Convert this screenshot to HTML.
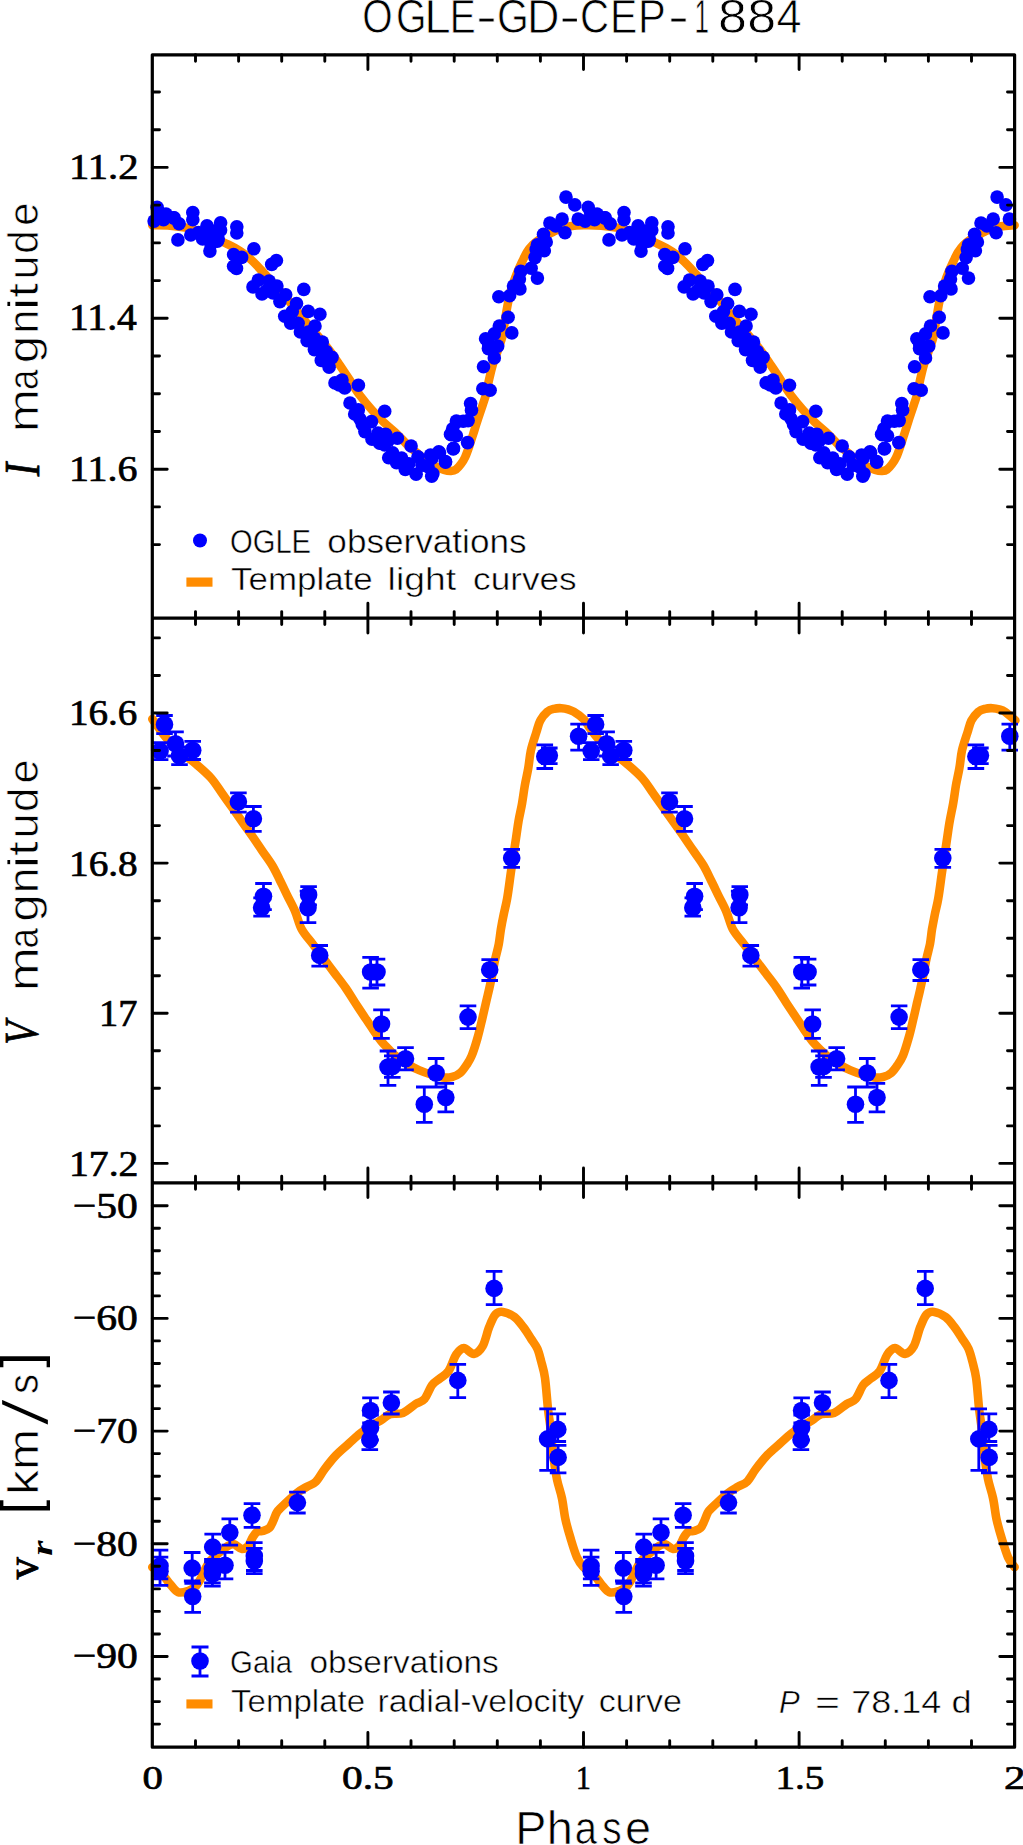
<!DOCTYPE html><html><head><meta charset="utf-8"><title>OGLE-GD-CEP-1884</title>
<style>html,body{margin:0;padding:0;background:#fff;}svg{display:block;}.s{font-family:"Liberation Sans",sans-serif;}.r{font-family:"Liberation Serif",serif;}</style></head><body>
<svg width="1023" height="1845" viewBox="0 0 1023 1845">
<rect width="1023" height="1845" fill="#fff"/>
<path d="M152.3 225.2C155.3 225.3 164.6 225.2 170 225.6C175.4 226 180.8 226.8 185 227.5C189.2 228.2 191.7 228.9 195 230C198.3 231.1 201.7 232.6 205 234C208.3 235.4 211.7 237 215 238.5C218.3 240 221.7 241.4 225 243C228.3 244.6 231.7 246.1 235 248C238.3 249.9 241.9 252.2 245 254.5C248.1 256.8 250.7 259.2 253.5 262C256.3 264.8 258.4 267.1 262 271C265.6 274.9 270.5 280.5 275 285.5C279.5 290.5 284 295.1 289 301C294 306.9 300.2 315.2 305 321C309.8 326.8 313.8 331 318 336C322.2 341 326.3 346.1 330 351C333.7 355.9 336.7 360.6 340 365.5C343.3 370.4 346.7 375.5 350 380.5C353.3 385.5 356.3 390.6 360 395.5C363.7 400.4 368 405.5 372 410C376 414.5 379.8 418.5 384 422.5C388.2 426.5 393 430.2 397 434C401 437.8 404.8 442.5 408 445.5C411.2 448.5 413.2 449.7 416 452C418.8 454.3 421.8 457.2 425 459.5C428.2 461.8 431.8 464.2 435 466C438.2 467.8 441.3 469.2 444 470C446.7 470.8 449 471.1 451 471C453 470.9 454.3 470.7 456 469.5C457.7 468.3 459.5 466 461 464C462.5 462 463.7 460.3 465 457.5C466.3 454.7 467.7 450.8 469 447C470.3 443.2 471.5 439.4 473 434.7C474.5 430 476.3 424.1 478 419C479.7 413.9 481.7 408.1 483 404C484.3 399.9 485 398.5 486 394.5C487 390.5 487.8 385.1 489 380C490.2 374.9 491.5 369 493 364C494.5 359 496.4 354.7 498 350C499.6 345.3 501.3 341 502.5 336C503.7 331 504.1 325.5 505 320C505.9 314.5 507 308 508 303C509 298 510.1 293.5 511 290C511.9 286.5 512.5 285 513.6 282C514.7 279 516.1 275.3 517.5 272C518.9 268.7 520.4 265.3 522 262C523.6 258.7 525.2 254.9 527 252C528.8 249.1 530.8 246.7 533 244.5C535.2 242.3 537.7 240.6 540 239C542.3 237.4 544.8 236.2 547 235C549.2 233.8 550.8 233 553 232C555.2 231 557.2 229.9 560 229C562.8 228.1 566.1 226.9 570 226.3C573.9 225.7 578.3 225.3 583.5 225.2C588.7 225.1 595.7 225.2 601.1 225.6C606.6 226 612 226.8 616.1 227.5C620.3 228.2 622.8 228.9 626.1 230C629.5 231.1 632.8 232.6 636.1 234C639.5 235.4 642.8 237 646.1 238.5C649.5 240 652.8 241.4 656.1 243C659.5 244.6 662.8 246.1 666.1 248C669.5 249.9 673.1 252.2 676.1 254.5C679.2 256.8 681.8 259.2 684.6 262C687.5 264.8 689.6 267.1 693.1 271C696.7 274.9 701.6 280.5 706.1 285.5C710.6 290.5 715.1 295.1 720.1 301C725.1 306.9 731.3 315.2 736.1 321C741 326.8 745 331 749.1 336C753.3 341 757.5 346.1 761.1 351C764.8 355.9 767.8 360.6 771.1 365.5C774.5 370.4 777.8 375.5 781.1 380.5C784.5 385.5 787.5 390.6 791.1 395.5C794.8 400.4 799.1 405.5 803.1 410C807.1 414.5 811 418.5 815.1 422.5C819.3 426.5 824.1 430.2 828.1 434C832.1 437.8 836 442.5 839.1 445.5C842.3 448.5 844.3 449.7 847.1 452C850 454.3 853 457.2 856.1 459.5C859.3 461.8 863 464.2 866.1 466C869.3 467.8 872.5 469.2 875.1 470C877.8 470.8 880.1 471.1 882.1 471C884.1 470.9 885.5 470.7 887.1 469.5C888.8 468.3 890.6 466 892.1 464C893.6 462 894.8 460.3 896.1 457.5C897.5 454.7 898.8 450.8 900.1 447C901.5 443.2 902.6 439.4 904.1 434.7C905.6 430 907.5 424.1 909.1 419C910.8 413.9 912.8 408.1 914.1 404C915.5 399.9 916.1 398.5 917.1 394.5C918.1 390.5 919 385.1 920.1 380C921.3 374.9 922.6 369 924.1 364C925.6 359 927.6 354.7 929.1 350C930.7 345.3 932.5 341 933.6 336C934.8 331 935.2 325.5 936.1 320C937.1 314.5 938.1 308 939.1 303C940.1 298 941.2 293.5 942.1 290C943.1 286.5 943.7 285 944.8 282C945.8 279 947.2 275.3 948.6 272C950 268.7 951.6 265.3 953.1 262C954.7 258.7 956.3 254.9 958.1 252C960 249.1 962 246.7 964.1 244.5C966.3 242.3 968.8 240.6 971.1 239C973.5 237.4 976 236.2 978.1 235C980.3 233.8 982 233 984.1 232C986.3 231 988.3 229.9 991.1 229C994 228.1 997.2 226.9 1001.1 226.3C1005.1 225.7 1012.4 225.4 1014.6 225.2" fill="none" stroke="#ff8c00" stroke-width="8.6" stroke-linecap="round" stroke-linejoin="round"/>
<path d="M152.3 719C153.2 720.3 155.7 723.9 158 727C160.3 730.1 163.2 734.2 166 737.5C168.8 740.8 171.8 744 175 747C178.2 750 181.5 752.7 185 755.5C188.5 758.3 191.7 760.2 196 764C200.3 767.8 206.8 773.2 211 778C215.2 782.8 218 787.6 221.5 792.5C225 797.4 228.5 802.4 232 807.3C235.5 812.2 238.9 817.1 242.3 822C245.7 826.9 249.2 831.7 252.6 836.6C256 841.5 259.3 846.4 262.6 851.3C265.9 856.2 269.7 861.1 272.6 866C275.5 870.9 277.6 875.6 280 880.5C282.4 885.4 284.7 890.2 287.2 895.3C289.7 900.4 292.6 905.3 295 911C297.4 916.7 298.8 923.8 301.7 929.3C304.6 934.8 309 939.1 312.7 944C316.4 948.9 320 953.8 323.7 958.7C327.4 963.6 331 968.4 334.7 973.3C338.4 978.2 342.3 983.1 345.7 988C349.1 992.9 351.8 997.6 355 1002.5C358.2 1007.4 361.8 1012.8 364.8 1017.3C367.8 1021.8 370.3 1025.6 373 1029.5C375.7 1033.4 378.1 1037.4 380.9 1040.8C383.6 1044.2 386.6 1047.1 389.5 1050C392.4 1052.9 395.3 1055.9 398.5 1058.4C401.7 1060.9 405.1 1062.8 408.5 1064.8C411.9 1066.8 415.2 1068.5 419 1070.1C422.8 1071.7 427.1 1073.3 431 1074.5C434.9 1075.7 439 1077 442.5 1077.4C446 1077.8 449.1 1077.7 452 1077C454.9 1076.3 457.7 1075 460.1 1073C462.5 1071 464.6 1067.9 466.5 1065C468.4 1062.1 470 1060 471.8 1055.5C473.6 1051 475.8 1044 477.5 1038C479.2 1032 480.7 1025.4 482.1 1019.5C483.5 1013.6 484.8 1007.8 486 1002.5C487.2 997.2 488.3 992.9 489.4 988C490.5 983.1 491.5 978.2 492.5 973.3C493.5 968.4 494.2 963.6 495.3 958.7C496.4 953.8 497.9 948.9 498.8 944C499.7 939.1 500.1 934.2 500.9 929.3C501.7 924.4 502.6 919.7 503.7 914.5C504.8 909.3 506 905 507.2 898.2C508.4 891.4 509.7 880.6 510.7 873.6C511.7 866.6 512.4 861.9 513.3 856C514.2 850.1 515.1 844.3 516 838.4C516.9 832.5 517.6 826.7 518.6 820.8C519.6 814.9 521.1 809.1 522.1 803.2C523.1 797.3 523.8 791.5 524.8 785.6C525.8 779.7 527.3 773.9 528.3 768C529.3 762.1 529.6 756.3 530.9 750.4C532.2 744.5 534.6 737.8 536.2 732.8C537.8 727.8 538.4 724 540.3 720.5C542.1 717 545 713.7 547.3 711.7C549.6 709.8 551.6 709.4 554 708.8C556.4 708.2 559.1 708.1 561.4 708.2C563.7 708.3 566 708.7 568 709.3C570 709.9 571.1 710.1 573.7 711.7C576.3 713.3 580.9 716.5 583.5 719C586 721.5 586.9 723.9 589.1 727C591.4 730.1 594.3 734.2 597.1 737.5C600 740.8 603 744 606.1 747C609.3 750 612.6 752.7 616.1 755.5C619.6 758.3 622.8 760.2 627.1 764C631.5 767.8 637.9 773.2 642.1 778C646.4 782.8 649.1 787.6 652.6 792.5C656.1 797.4 659.7 802.4 663.1 807.3C666.6 812.2 670 817.1 673.5 822C676.9 826.9 680.4 831.7 683.8 836.6C687.1 841.5 690.4 846.4 693.8 851.3C697.1 856.2 700.9 861.1 703.8 866C706.6 870.9 708.7 875.6 711.1 880.5C713.6 885.4 715.8 890.2 718.3 895.3C720.8 900.4 723.7 905.3 726.1 911C728.6 916.7 729.9 923.8 732.8 929.3C735.8 934.8 740.2 939.1 743.8 944C747.5 948.9 751.2 953.8 754.8 958.7C758.5 963.6 762.2 968.4 765.8 973.3C769.5 978.2 773.5 983.1 776.8 988C780.2 992.9 783 997.6 786.1 1002.5C789.3 1007.4 793 1012.8 796 1017.3C799 1021.8 801.5 1025.6 804.1 1029.5C806.8 1033.4 809.3 1037.4 812 1040.8C814.8 1044.2 817.7 1047.1 820.6 1050C823.6 1052.9 826.5 1055.9 829.6 1058.4C832.8 1060.9 836.2 1062.8 839.6 1064.8C843.1 1066.8 846.4 1068.5 850.1 1070.1C853.9 1071.7 858.2 1073.3 862.1 1074.5C866.1 1075.7 870.1 1077 873.6 1077.4C877.1 1077.8 880.2 1077.7 883.1 1077C886.1 1076.3 888.8 1075 891.2 1073C893.7 1071 895.7 1067.9 897.6 1065C899.6 1062.1 901.1 1060 903 1055.5C904.8 1051 906.9 1044 908.6 1038C910.4 1032 911.8 1025.4 913.2 1019.5C914.7 1013.6 915.9 1007.8 917.1 1002.5C918.4 997.2 919.5 992.9 920.5 988C921.6 983.1 922.7 978.2 923.6 973.3C924.6 968.4 925.4 963.6 926.5 958.7C927.5 953.8 929 948.9 930 944C930.9 939.1 931.2 934.2 932 929.3C932.9 924.4 933.8 919.7 934.8 914.5C935.9 909.3 937.2 905 938.3 898.2C939.5 891.4 940.8 880.6 941.8 873.6C942.9 866.6 943.6 861.9 944.4 856C945.3 850.1 946.3 844.3 947.1 838.4C948 832.5 948.7 826.7 949.8 820.8C950.8 814.9 952.2 809.1 953.2 803.2C954.3 797.3 954.9 791.5 955.9 785.6C957 779.7 958.4 773.9 959.4 768C960.5 762.1 960.7 756.3 962 750.4C963.4 744.5 965.8 737.8 967.4 732.8C968.9 727.8 969.6 724 971.4 720.5C973.3 717 976.2 713.7 978.4 711.7C980.7 709.8 982.8 709.4 985.1 708.8C987.5 708.2 990.2 708.1 992.5 708.2C994.9 708.3 997.1 708.7 999.1 709.3C1001.2 709.9 1002.1 709.8 1004.9 711.7C1007.6 713.6 1013.7 719 1015.4 720.5" fill="none" stroke="#ff8c00" stroke-width="8.6" stroke-linecap="round" stroke-linejoin="round"/>
<path d="M152.3 1567.2C153.3 1567.8 156 1569.4 158 1571C160 1572.6 162.4 1574.8 164.5 1577C166.6 1579.2 168.1 1582 170.4 1584.5C172.7 1587 175.3 1591.1 178.2 1592.2C181.1 1593.3 185.2 1591.9 188 1591C190.8 1590.1 193 1588.8 195 1587C197 1585.2 198.4 1582.8 200 1580C201.6 1577.2 203 1573.2 204.7 1570C206.4 1566.8 207.7 1563.8 210 1561C212.3 1558.2 215.3 1556 218.3 1553.5C221.3 1551 225.2 1547.5 227.8 1546C230.4 1544.5 231.8 1543.8 234.1 1544.3C236.4 1544.8 239.6 1548.8 241.9 1549C244.2 1549.2 246.4 1547.8 248.2 1545.8C250 1543.8 251.3 1539.4 252.9 1537C254.5 1534.6 255.8 1532.5 257.5 1531.5C259.2 1530.5 261 1531.6 263 1531C265 1530.4 267.6 1529.7 269.3 1528C271 1526.3 272 1523.5 273.2 1521C274.4 1518.5 275.3 1515.1 276.5 1513C277.7 1510.9 276.8 1511.7 280.2 1508.4C283.6 1505.1 292.4 1496.7 296.8 1493.1C301.2 1489.5 303.7 1488.6 306.9 1486.7C310.1 1484.8 312.8 1484.7 315.8 1481.7C318.8 1478.8 321.3 1473.5 324.7 1469C328.1 1464.5 332.2 1459.2 336.2 1455C340.2 1450.8 344.9 1447.1 348.9 1443.5C352.9 1439.9 356.3 1436.5 360.3 1433.4C364.3 1430.3 369.5 1427.2 373 1425C376.5 1422.8 378.4 1421.8 381.3 1420C384.2 1418.2 386.6 1415.4 390.2 1414.2C393.8 1413 398.7 1414.6 402.9 1412.9C407.1 1411.2 412 1406.3 415.6 1404C419.2 1401.7 421.8 1402.2 424.5 1399C427.2 1395.8 429.6 1388.4 432.1 1385C434.6 1381.6 436.9 1380.9 439.7 1378.6C442.4 1376.3 445.9 1375 448.6 1371C451.4 1367 453.6 1358.3 456.2 1354.5C458.8 1350.7 461 1348.2 463.9 1348.1C466.8 1348 470.7 1354.2 473.8 1353.9C476.9 1353.6 480.1 1350.7 482.7 1346.2C485.2 1341.8 487 1332.5 489.1 1327.2C491.2 1321.9 493.1 1317 495.4 1314.5C497.7 1312 499.8 1311.5 503 1311.9C506.2 1312.3 511.1 1314.5 514.5 1317C517.9 1319.5 520.6 1323.6 523.4 1327.2C526.1 1330.8 528.7 1335 531 1338.6C533.3 1342.2 535.7 1345 537.4 1348.8C539.1 1352.6 539.9 1356.6 541.2 1361.5C542.5 1366.4 543.9 1370.1 545 1378C546.1 1385.9 547.1 1400.8 548 1409.1C548.9 1417.4 549.7 1420.7 550.5 1428.1C551.3 1435.5 551.9 1445 553 1453.5C554.1 1462 555.4 1471.6 556.9 1479C558.4 1486.4 560.5 1491.3 561.9 1498C563.3 1504.7 564 1512.4 565.4 1519.1C566.8 1525.8 568.6 1531.8 570.5 1538.1C572.4 1544.4 574.7 1552.3 576.9 1557.2C579.1 1562.1 581.5 1564.9 583.5 1567.2C585.5 1569.5 587.1 1569.4 589.1 1571C591.2 1572.6 593.6 1574.8 595.6 1577C597.7 1579.2 599.3 1582 601.5 1584.5C603.8 1587 606.4 1591.1 609.3 1592.2C612.3 1593.3 616.3 1591.9 619.1 1591C622 1590.1 624.1 1588.8 626.1 1587C628.1 1585.2 629.5 1582.8 631.1 1580C632.8 1577.2 634.2 1573.2 635.8 1570C637.5 1566.8 638.9 1563.8 641.1 1561C643.4 1558.2 646.5 1556 649.5 1553.5C652.4 1551 656.3 1547.5 659 1546C661.6 1544.5 662.9 1543.8 665.2 1544.3C667.6 1544.8 670.7 1548.8 673 1549C675.4 1549.2 677.5 1547.8 679.3 1545.8C681.2 1543.8 682.5 1539.4 684 1537C685.6 1534.6 687 1532.5 688.6 1531.5C690.3 1530.5 692.2 1531.6 694.1 1531C696.1 1530.4 698.8 1529.7 700.5 1528C702.2 1526.3 703.1 1523.5 704.3 1521C705.5 1518.5 706.5 1515.1 707.6 1513C708.8 1510.9 708 1511.7 711.3 1508.4C714.7 1505.1 723.5 1496.7 728 1493.1C732.4 1489.5 734.9 1488.6 738 1486.7C741.2 1484.8 744 1484.7 747 1481.7C749.9 1478.8 752.4 1473.5 755.8 1469C759.2 1464.5 763.3 1459.2 767.3 1455C771.4 1450.8 776 1447.1 780 1443.5C784.1 1439.9 787.4 1436.5 791.5 1433.4C795.5 1430.3 800.6 1427.2 804.1 1425C807.6 1422.8 809.6 1421.8 812.5 1420C815.3 1418.2 817.7 1415.4 821.3 1414.2C824.9 1413 829.8 1414.6 834 1412.9C838.3 1411.2 843.1 1406.3 846.8 1404C850.4 1401.7 852.9 1402.2 855.6 1399C858.4 1395.8 860.7 1388.4 863.2 1385C865.8 1381.6 868.1 1380.9 870.8 1378.6C873.6 1376.3 877 1375 879.8 1371C882.5 1367 884.8 1358.3 887.3 1354.5C889.9 1350.7 892.1 1348.2 895 1348.1C898 1348 901.8 1354.2 905 1353.9C908.1 1353.6 911.3 1350.7 913.8 1346.2C916.4 1341.8 918.1 1332.5 920.2 1327.2C922.4 1321.9 924.2 1317 926.5 1314.5C928.9 1312 931 1311.5 934.1 1311.9C937.3 1312.3 942.2 1314.5 945.6 1317C949 1319.5 951.8 1323.6 954.5 1327.2C957.3 1330.8 959.8 1335 962.1 1338.6C964.5 1342.2 966.8 1345 968.5 1348.8C970.2 1352.6 971.1 1356.6 972.4 1361.5C973.6 1366.4 975 1370.1 976.1 1378C977.3 1385.9 978.2 1400.8 979.1 1409.1C980.1 1417.4 980.8 1420.7 981.6 1428.1C982.5 1435.5 983.1 1445 984.1 1453.5C985.2 1462 986.6 1471.6 988 1479C989.5 1486.4 991.6 1491.3 993 1498C994.5 1504.7 995.1 1512.4 996.5 1519.1C998 1525.8 999.7 1531.8 1001.6 1538.1C1003.6 1544.4 1005.9 1552.3 1008 1557.2C1010.2 1562.1 1013.5 1565.5 1014.6 1567.2" fill="none" stroke="#ff8c00" stroke-width="8.6" stroke-linecap="round" stroke-linejoin="round"/>
<g fill="#0000ff">
<circle cx="157.1" cy="207.3" r="6.8"/>
<circle cx="154.1" cy="221.1" r="6.8"/>
<circle cx="164.7" cy="217.9" r="6.8"/>
<circle cx="173.5" cy="217.9" r="6.8"/>
<circle cx="174.2" cy="217.9" r="6.8"/>
<circle cx="179.1" cy="223.7" r="6.8"/>
<circle cx="163.5" cy="219.8" r="6.8"/>
<circle cx="192.8" cy="212.5" r="6.8"/>
<circle cx="192.8" cy="219.8" r="6.8"/>
<circle cx="177.9" cy="239.9" r="6.8"/>
<circle cx="190.8" cy="235" r="6.8"/>
<circle cx="207" cy="225.7" r="6.8"/>
<circle cx="220.6" cy="222.7" r="6.8"/>
<circle cx="220.6" cy="230.1" r="6.8"/>
<circle cx="218.2" cy="238.9" r="6.8"/>
<circle cx="209.9" cy="251.1" r="6.8"/>
<circle cx="202.6" cy="238.9" r="6.8"/>
<circle cx="198.4" cy="232.5" r="6.8"/>
<circle cx="217.4" cy="241.3" r="6.8"/>
<circle cx="213" cy="236" r="6.8"/>
<circle cx="236.8" cy="226.7" r="6.8"/>
<circle cx="236.8" cy="233" r="6.8"/>
<circle cx="253.9" cy="248.8" r="6.8"/>
<circle cx="233.6" cy="254.5" r="6.8"/>
<circle cx="241.6" cy="257.4" r="6.8"/>
<circle cx="236.5" cy="268.4" r="6.8"/>
<circle cx="233.6" cy="266.2" r="6.8"/>
<circle cx="271.7" cy="264.4" r="6.8"/>
<circle cx="276.4" cy="260.5" r="6.8"/>
<circle cx="258.3" cy="280.1" r="6.8"/>
<circle cx="253" cy="286.9" r="6.8"/>
<circle cx="266.2" cy="290.8" r="6.8"/>
<circle cx="276.9" cy="286" r="6.8"/>
<circle cx="269.1" cy="281.1" r="6.8"/>
<circle cx="303.8" cy="289.4" r="6.8"/>
<circle cx="285.7" cy="294.7" r="6.8"/>
<circle cx="279.9" cy="301.6" r="6.8"/>
<circle cx="296.5" cy="303.5" r="6.8"/>
<circle cx="284.7" cy="316.2" r="6.8"/>
<circle cx="308.2" cy="311.4" r="6.8"/>
<circle cx="319.9" cy="314.3" r="6.8"/>
<circle cx="290.6" cy="323.1" r="6.8"/>
<circle cx="315" cy="326" r="6.8"/>
<circle cx="300.4" cy="331.9" r="6.8"/>
<circle cx="322.3" cy="342" r="6.8"/>
<circle cx="307.1" cy="340.8" r="6.8"/>
<circle cx="314.4" cy="349.6" r="6.8"/>
<circle cx="332" cy="357.4" r="6.8"/>
<circle cx="321.3" cy="360.4" r="6.8"/>
<circle cx="329.1" cy="367.2" r="6.8"/>
<circle cx="326.2" cy="351.6" r="6.8"/>
<circle cx="335" cy="382.9" r="6.8"/>
<circle cx="358.4" cy="385.3" r="6.8"/>
<circle cx="344.7" cy="388" r="6.8"/>
<circle cx="350" cy="403" r="6.8"/>
<circle cx="358.3" cy="409.9" r="6.8"/>
<circle cx="359.8" cy="418.7" r="6.8"/>
<circle cx="362.3" cy="424.5" r="6.8"/>
<circle cx="371.5" cy="421.6" r="6.8"/>
<circle cx="384.7" cy="411.3" r="6.8"/>
<circle cx="372" cy="439.2" r="6.8"/>
<circle cx="385.7" cy="434.3" r="6.8"/>
<circle cx="397.4" cy="438.2" r="6.8"/>
<circle cx="411.1" cy="446" r="6.8"/>
<circle cx="384.7" cy="445" r="6.8"/>
<circle cx="392.6" cy="452.9" r="6.8"/>
<circle cx="388.7" cy="457.8" r="6.8"/>
<circle cx="418" cy="456.8" r="6.8"/>
<circle cx="430.5" cy="455" r="6.8"/>
<circle cx="380.9" cy="443" r="6.8"/>
<circle cx="396.5" cy="462.6" r="6.8"/>
<circle cx="405.3" cy="469.4" r="6.8"/>
<circle cx="416.1" cy="474.3" r="6.8"/>
<circle cx="431.7" cy="476.2" r="6.8"/>
<circle cx="439.5" cy="452.8" r="6.8"/>
<circle cx="445.4" cy="461.6" r="6.8"/>
<circle cx="453.2" cy="448.9" r="6.8"/>
<circle cx="451.2" cy="434.7" r="6.8"/>
<circle cx="456.6" cy="422" r="6.8"/>
<circle cx="482.8" cy="388.8" r="6.8"/>
<circle cx="490.1" cy="390.3" r="6.8"/>
<circle cx="470.6" cy="403.5" r="6.8"/>
<circle cx="471.5" cy="410.3" r="6.8"/>
<circle cx="456.4" cy="421.1" r="6.8"/>
<circle cx="468.1" cy="420.6" r="6.8"/>
<circle cx="450.5" cy="434.3" r="6.8"/>
<circle cx="456.4" cy="435.7" r="6.8"/>
<circle cx="467.6" cy="442.6" r="6.8"/>
<circle cx="453.5" cy="448.4" r="6.8"/>
<circle cx="438.8" cy="451.8" r="6.8"/>
<circle cx="445.6" cy="462.1" r="6.8"/>
<circle cx="432" cy="458.2" r="6.8"/>
<circle cx="432.9" cy="473.8" r="6.8"/>
<circle cx="511.8" cy="332.9" r="6.8"/>
<circle cx="494.3" cy="333.9" r="6.8"/>
<circle cx="488.4" cy="343.2" r="6.8"/>
<circle cx="497.7" cy="346.1" r="6.8"/>
<circle cx="488.4" cy="348.6" r="6.8"/>
<circle cx="494.3" cy="357.9" r="6.8"/>
<circle cx="483.5" cy="366.7" r="6.8"/>
<circle cx="452.7" cy="428.7" r="6.8"/>
<circle cx="546.2" cy="242" r="6.8"/>
<circle cx="537.4" cy="244.9" r="6.8"/>
<circle cx="544.3" cy="250.8" r="6.8"/>
<circle cx="535" cy="257.6" r="6.8"/>
<circle cx="531.1" cy="268.3" r="6.8"/>
<circle cx="537.4" cy="278.1" r="6.8"/>
<circle cx="520.8" cy="271.3" r="6.8"/>
<circle cx="519.4" cy="279.1" r="6.8"/>
<circle cx="519.9" cy="288.9" r="6.8"/>
<circle cx="513.5" cy="286" r="6.8"/>
<circle cx="498.8" cy="296.7" r="6.8"/>
<circle cx="509.6" cy="295.7" r="6.8"/>
<circle cx="508.1" cy="317.2" r="6.8"/>
<circle cx="499.3" cy="326" r="6.8"/>
<circle cx="485.6" cy="338.7" r="6.8"/>
<circle cx="566" cy="197.1" r="6.8"/>
<circle cx="574.8" cy="204.9" r="6.8"/>
<circle cx="578.2" cy="219.1" r="6.8"/>
<circle cx="562.1" cy="219.1" r="6.8"/>
<circle cx="549.9" cy="223" r="6.8"/>
<circle cx="565" cy="232.8" r="6.8"/>
<circle cx="555.7" cy="226" r="6.8"/>
<circle cx="543.5" cy="234.3" r="6.8"/>
<circle cx="536.2" cy="249.4" r="6.8"/>
<circle cx="159.5" cy="212.5" r="6.8"/>
<circle cx="166" cy="214" r="6.8"/>
<circle cx="208" cy="233" r="6.8"/>
<circle cx="214" cy="231" r="6.8"/>
<circle cx="211" cy="244" r="6.8"/>
<circle cx="262" cy="294" r="6.8"/>
<circle cx="273" cy="293" r="6.8"/>
<circle cx="292.3" cy="311.6" r="6.8"/>
<circle cx="298.1" cy="323.3" r="6.8"/>
<circle cx="308.4" cy="332.1" r="6.8"/>
<circle cx="314.3" cy="338" r="6.8"/>
<circle cx="318.7" cy="346.8" r="6.8"/>
<circle cx="324.5" cy="355.6" r="6.8"/>
<circle cx="328.9" cy="361.4" r="6.8"/>
<circle cx="339.2" cy="384.9" r="6.8"/>
<circle cx="268.8" cy="289.6" r="6.8"/>
<circle cx="342" cy="380" r="6.8"/>
<circle cx="354.7" cy="414" r="6.8"/>
<circle cx="364.9" cy="431.6" r="6.8"/>
<circle cx="378.1" cy="433" r="6.8"/>
<circle cx="379.6" cy="443.3" r="6.8"/>
<circle cx="388.4" cy="440.4" r="6.8"/>
<circle cx="408.9" cy="463.8" r="6.8"/>
<circle cx="422.1" cy="465.3" r="6.8"/>
<circle cx="428" cy="466.8" r="6.8"/>
<circle cx="401.6" cy="458" r="6.8"/>
<circle cx="463.2" cy="421.3" r="6.8"/>
<circle cx="588.2" cy="207.3" r="6.8"/>
<circle cx="585.2" cy="221.1" r="6.8"/>
<circle cx="595.8" cy="217.9" r="6.8"/>
<circle cx="604.6" cy="217.9" r="6.8"/>
<circle cx="605.3" cy="217.9" r="6.8"/>
<circle cx="610.2" cy="223.7" r="6.8"/>
<circle cx="594.6" cy="219.8" r="6.8"/>
<circle cx="624" cy="212.5" r="6.8"/>
<circle cx="624" cy="219.8" r="6.8"/>
<circle cx="609" cy="239.9" r="6.8"/>
<circle cx="622" cy="235" r="6.8"/>
<circle cx="638.1" cy="225.7" r="6.8"/>
<circle cx="651.8" cy="222.7" r="6.8"/>
<circle cx="651.8" cy="230.1" r="6.8"/>
<circle cx="649.3" cy="238.9" r="6.8"/>
<circle cx="641" cy="251.1" r="6.8"/>
<circle cx="633.8" cy="238.9" r="6.8"/>
<circle cx="629.5" cy="232.5" r="6.8"/>
<circle cx="648.5" cy="241.3" r="6.8"/>
<circle cx="644.1" cy="236" r="6.8"/>
<circle cx="668" cy="226.7" r="6.8"/>
<circle cx="668" cy="233" r="6.8"/>
<circle cx="685" cy="248.8" r="6.8"/>
<circle cx="664.8" cy="254.5" r="6.8"/>
<circle cx="672.8" cy="257.4" r="6.8"/>
<circle cx="667.6" cy="268.4" r="6.8"/>
<circle cx="664.8" cy="266.2" r="6.8"/>
<circle cx="702.8" cy="264.4" r="6.8"/>
<circle cx="707.5" cy="260.5" r="6.8"/>
<circle cx="689.5" cy="280.1" r="6.8"/>
<circle cx="684.1" cy="286.9" r="6.8"/>
<circle cx="697.3" cy="290.8" r="6.8"/>
<circle cx="708" cy="286" r="6.8"/>
<circle cx="700.2" cy="281.1" r="6.8"/>
<circle cx="735" cy="289.4" r="6.8"/>
<circle cx="716.8" cy="294.7" r="6.8"/>
<circle cx="711" cy="301.6" r="6.8"/>
<circle cx="727.6" cy="303.5" r="6.8"/>
<circle cx="715.8" cy="316.2" r="6.8"/>
<circle cx="739.3" cy="311.4" r="6.8"/>
<circle cx="751" cy="314.3" r="6.8"/>
<circle cx="721.8" cy="323.1" r="6.8"/>
<circle cx="746.1" cy="326" r="6.8"/>
<circle cx="731.5" cy="331.9" r="6.8"/>
<circle cx="753.5" cy="342" r="6.8"/>
<circle cx="738.2" cy="340.8" r="6.8"/>
<circle cx="745.5" cy="349.6" r="6.8"/>
<circle cx="763.1" cy="357.4" r="6.8"/>
<circle cx="752.5" cy="360.4" r="6.8"/>
<circle cx="760.2" cy="367.2" r="6.8"/>
<circle cx="757.3" cy="351.6" r="6.8"/>
<circle cx="766.1" cy="382.9" r="6.8"/>
<circle cx="789.5" cy="385.3" r="6.8"/>
<circle cx="775.8" cy="388" r="6.8"/>
<circle cx="781.1" cy="403" r="6.8"/>
<circle cx="789.5" cy="409.9" r="6.8"/>
<circle cx="791" cy="418.7" r="6.8"/>
<circle cx="793.5" cy="424.5" r="6.8"/>
<circle cx="802.6" cy="421.6" r="6.8"/>
<circle cx="815.8" cy="411.3" r="6.8"/>
<circle cx="803.1" cy="439.2" r="6.8"/>
<circle cx="816.8" cy="434.3" r="6.8"/>
<circle cx="828.5" cy="438.2" r="6.8"/>
<circle cx="842.2" cy="446" r="6.8"/>
<circle cx="815.8" cy="445" r="6.8"/>
<circle cx="823.8" cy="452.9" r="6.8"/>
<circle cx="819.8" cy="457.8" r="6.8"/>
<circle cx="849.1" cy="456.8" r="6.8"/>
<circle cx="861.6" cy="455" r="6.8"/>
<circle cx="812" cy="443" r="6.8"/>
<circle cx="827.6" cy="462.6" r="6.8"/>
<circle cx="836.5" cy="469.4" r="6.8"/>
<circle cx="847.2" cy="474.3" r="6.8"/>
<circle cx="862.8" cy="476.2" r="6.8"/>
<circle cx="870.6" cy="452.8" r="6.8"/>
<circle cx="876.5" cy="461.6" r="6.8"/>
<circle cx="884.3" cy="448.9" r="6.8"/>
<circle cx="882.3" cy="434.7" r="6.8"/>
<circle cx="887.8" cy="422" r="6.8"/>
<circle cx="914" cy="388.8" r="6.8"/>
<circle cx="921.2" cy="390.3" r="6.8"/>
<circle cx="901.8" cy="403.5" r="6.8"/>
<circle cx="902.6" cy="410.3" r="6.8"/>
<circle cx="887.5" cy="421.1" r="6.8"/>
<circle cx="899.2" cy="420.6" r="6.8"/>
<circle cx="881.6" cy="434.3" r="6.8"/>
<circle cx="887.5" cy="435.7" r="6.8"/>
<circle cx="898.8" cy="442.6" r="6.8"/>
<circle cx="884.6" cy="448.4" r="6.8"/>
<circle cx="870" cy="451.8" r="6.8"/>
<circle cx="876.8" cy="462.1" r="6.8"/>
<circle cx="863.1" cy="458.2" r="6.8"/>
<circle cx="864" cy="473.8" r="6.8"/>
<circle cx="943" cy="332.9" r="6.8"/>
<circle cx="925.5" cy="333.9" r="6.8"/>
<circle cx="919.5" cy="343.2" r="6.8"/>
<circle cx="928.8" cy="346.1" r="6.8"/>
<circle cx="919.5" cy="348.6" r="6.8"/>
<circle cx="925.5" cy="357.9" r="6.8"/>
<circle cx="914.6" cy="366.7" r="6.8"/>
<circle cx="883.8" cy="428.7" r="6.8"/>
<circle cx="977.4" cy="242" r="6.8"/>
<circle cx="968.5" cy="244.9" r="6.8"/>
<circle cx="975.4" cy="250.8" r="6.8"/>
<circle cx="966.1" cy="257.6" r="6.8"/>
<circle cx="962.2" cy="268.3" r="6.8"/>
<circle cx="968.5" cy="278.1" r="6.8"/>
<circle cx="951.9" cy="271.3" r="6.8"/>
<circle cx="950.5" cy="279.1" r="6.8"/>
<circle cx="951" cy="288.9" r="6.8"/>
<circle cx="944.6" cy="286" r="6.8"/>
<circle cx="930" cy="296.7" r="6.8"/>
<circle cx="940.8" cy="295.7" r="6.8"/>
<circle cx="939.2" cy="317.2" r="6.8"/>
<circle cx="930.5" cy="326" r="6.8"/>
<circle cx="916.8" cy="338.7" r="6.8"/>
<circle cx="997.1" cy="197.1" r="6.8"/>
<circle cx="1005.9" cy="204.9" r="6.8"/>
<circle cx="1009.4" cy="219.1" r="6.8"/>
<circle cx="993.2" cy="219.1" r="6.8"/>
<circle cx="981" cy="223" r="6.8"/>
<circle cx="996.1" cy="232.8" r="6.8"/>
<circle cx="986.9" cy="226" r="6.8"/>
<circle cx="974.6" cy="234.3" r="6.8"/>
<circle cx="967.4" cy="249.4" r="6.8"/>
<circle cx="590.6" cy="212.5" r="6.8"/>
<circle cx="597.1" cy="214" r="6.8"/>
<circle cx="639.1" cy="233" r="6.8"/>
<circle cx="645.1" cy="231" r="6.8"/>
<circle cx="642.1" cy="244" r="6.8"/>
<circle cx="693.1" cy="294" r="6.8"/>
<circle cx="704.1" cy="293" r="6.8"/>
<circle cx="723.5" cy="311.6" r="6.8"/>
<circle cx="729.2" cy="323.3" r="6.8"/>
<circle cx="739.5" cy="332.1" r="6.8"/>
<circle cx="745.5" cy="338" r="6.8"/>
<circle cx="749.8" cy="346.8" r="6.8"/>
<circle cx="755.6" cy="355.6" r="6.8"/>
<circle cx="760" cy="361.4" r="6.8"/>
<circle cx="770.3" cy="384.9" r="6.8"/>
<circle cx="700" cy="289.6" r="6.8"/>
<circle cx="773.1" cy="380" r="6.8"/>
<circle cx="785.8" cy="414" r="6.8"/>
<circle cx="796" cy="431.6" r="6.8"/>
<circle cx="809.2" cy="433" r="6.8"/>
<circle cx="810.8" cy="443.3" r="6.8"/>
<circle cx="819.5" cy="440.4" r="6.8"/>
<circle cx="840" cy="463.8" r="6.8"/>
<circle cx="853.2" cy="465.3" r="6.8"/>
<circle cx="859.1" cy="466.8" r="6.8"/>
<circle cx="832.8" cy="458" r="6.8"/>
<circle cx="894.3" cy="421.3" r="6.8"/>
</g>
<path d="M164.5 715.5V733.7M156.2 715.5H172.8M156.2 733.7H172.8M175.5 731.8V756M167.2 731.8H183.8M167.2 756H183.8M160.1 742.6V759.7M151.8 742.6H168.4M151.8 759.7H168.4M179.5 747V764.6M171.2 747H187.8M171.2 764.6H187.8M192.7 741.3V759.5M184.4 741.3H201M184.4 759.5H201M238.4 792.8V812.1M230.1 792.8H246.7M230.1 812.1H246.7M253.4 806.5V831.4M245.1 806.5H261.7M245.1 831.4H261.7M263.5 883.5V909.6M255.2 883.5H271.8M255.2 909.6H271.8M261.6 897.8V916.2M253.3 897.8H269.9M253.3 916.2H269.9M308.6 886.7V905M300.3 886.7H316.9M300.3 905H316.9M308 891.2V922.7M299.7 891.2H316.3M299.7 922.7H316.3M319.7 945.5V966.2M311.4 945.5H328M311.4 966.2H328M370.6 957.3V988.2M362.3 957.3H378.9M362.3 988.2H378.9M377 959.2V985M368.7 959.2H385.3M368.7 985H385.3M381.5 1009.8V1038.4M373.2 1009.8H389.8M373.2 1038.4H389.8M388 1051V1085.4M379.7 1051H396.3M379.7 1085.4H396.3M392.3 1055.8V1077.3M384 1055.8H400.6M384 1077.3H400.6M405.5 1047.7V1069.8M397.2 1047.7H413.8M397.2 1069.8H413.8M436.1 1058.5V1087M427.8 1058.5H444.4M427.8 1087H444.4M424.3 1087V1122.3M416 1087H432.6M416 1122.3H432.6M445.8 1083.4V1111.9M437.5 1083.4H454.1M437.5 1111.9H454.1M468 1005.8V1028.7M459.7 1005.8H476.3M459.7 1028.7H476.3M489.7 959.6V980.5M481.4 959.6H498M481.4 980.5H498M511.7 849.3V867.4M503.4 849.3H520M503.4 867.4H520M544.8 744.8V768.5M536.5 744.8H553.1M536.5 768.5H553.1M549.3 748V763.7M541 748H557.6M541 763.7H557.6M578.6 724.2V750.2M570.3 724.2H586.9M570.3 750.2H586.9M595.6 715.5V733.7M587.4 715.5H603.9M587.4 733.7H603.9M606.6 731.8V756M598.4 731.8H614.9M598.4 756H614.9M591.2 742.6V759.7M583 742.6H599.5M583 759.7H599.5M610.6 747V764.6M602.4 747H618.9M602.4 764.6H618.9M623.8 741.3V759.5M615.5 741.3H632.1M615.5 759.5H632.1M669.5 792.8V812.1M661.2 792.8H677.8M661.2 812.1H677.8M684.5 806.5V831.4M676.2 806.5H692.8M676.2 831.4H692.8M694.6 883.5V909.6M686.4 883.5H702.9M686.4 909.6H702.9M692.8 897.8V916.2M684.5 897.8H701M684.5 916.2H701M739.8 886.7V905M731.5 886.7H748M731.5 905H748M739.1 891.2V922.7M730.9 891.2H747.4M730.9 922.7H747.4M750.8 945.5V966.2M742.5 945.5H759.1M742.5 966.2H759.1M801.8 957.3V988.2M793.5 957.3H810M793.5 988.2H810M808.1 959.2V985M799.9 959.2H816.4M799.9 985H816.4M812.6 1009.8V1038.4M804.4 1009.8H820.9M804.4 1038.4H820.9M819.1 1051V1085.4M810.9 1051H827.4M810.9 1085.4H827.4M823.5 1055.8V1077.3M815.2 1055.8H831.8M815.2 1077.3H831.8M836.6 1047.7V1069.8M828.4 1047.7H844.9M828.4 1069.8H844.9M867.2 1058.5V1087M859 1058.5H875.5M859 1087H875.5M855.5 1087V1122.3M847.2 1087H863.8M847.2 1122.3H863.8M877 1083.4V1111.9M868.7 1083.4H885.2M868.7 1111.9H885.2M899.1 1005.8V1028.7M890.9 1005.8H907.4M890.9 1028.7H907.4M920.8 959.6V980.5M912.5 959.6H929.1M912.5 980.5H929.1M942.8 849.3V867.4M934.5 849.3H951.1M934.5 867.4H951.1M975.9 744.8V768.5M967.6 744.8H984.2M967.6 768.5H984.2M980.4 748V763.7M972.1 748H988.7M972.1 763.7H988.7M1009.8 724.2V750.2M1001.5 724.2H1018M1001.5 750.2H1018" stroke="#0000ff" stroke-width="2.8" fill="none"/>
<g fill="#0000ff">
<circle cx="164.5" cy="724.4" r="8.8"/>
<circle cx="175.5" cy="743.8" r="8.8"/>
<circle cx="160.1" cy="751" r="8.8"/>
<circle cx="179.5" cy="755.9" r="8.8"/>
<circle cx="192.7" cy="750.2" r="8.8"/>
<circle cx="238.4" cy="801.7" r="8.8"/>
<circle cx="253.4" cy="818.8" r="8.8"/>
<circle cx="263.5" cy="896.2" r="8.8"/>
<circle cx="261.6" cy="907.7" r="8.8"/>
<circle cx="308.6" cy="895" r="8.8"/>
<circle cx="308" cy="907.7" r="8.8"/>
<circle cx="319.7" cy="955.4" r="8.8"/>
<circle cx="370.6" cy="972" r="8.8"/>
<circle cx="377" cy="972" r="8.8"/>
<circle cx="381.5" cy="1024" r="8.8"/>
<circle cx="388" cy="1067" r="8.8"/>
<circle cx="392.3" cy="1066.5" r="8.8"/>
<circle cx="405.5" cy="1058.8" r="8.8"/>
<circle cx="436.1" cy="1073" r="8.8"/>
<circle cx="424.3" cy="1104.2" r="8.8"/>
<circle cx="445.8" cy="1097.5" r="8.8"/>
<circle cx="468" cy="1017.1" r="8.8"/>
<circle cx="489.7" cy="969.8" r="8.8"/>
<circle cx="511.7" cy="858.1" r="8.8"/>
<circle cx="544.8" cy="756.5" r="8.8"/>
<circle cx="549.3" cy="755.5" r="8.8"/>
<circle cx="578.6" cy="736.3" r="8.8"/>
<circle cx="595.6" cy="724.4" r="8.8"/>
<circle cx="606.6" cy="743.8" r="8.8"/>
<circle cx="591.2" cy="751" r="8.8"/>
<circle cx="610.6" cy="755.9" r="8.8"/>
<circle cx="623.8" cy="750.2" r="8.8"/>
<circle cx="669.5" cy="801.7" r="8.8"/>
<circle cx="684.5" cy="818.8" r="8.8"/>
<circle cx="694.6" cy="896.2" r="8.8"/>
<circle cx="692.8" cy="907.7" r="8.8"/>
<circle cx="739.8" cy="895" r="8.8"/>
<circle cx="739.1" cy="907.7" r="8.8"/>
<circle cx="750.8" cy="955.4" r="8.8"/>
<circle cx="801.8" cy="972" r="8.8"/>
<circle cx="808.1" cy="972" r="8.8"/>
<circle cx="812.6" cy="1024" r="8.8"/>
<circle cx="819.1" cy="1067" r="8.8"/>
<circle cx="823.5" cy="1066.5" r="8.8"/>
<circle cx="836.6" cy="1058.8" r="8.8"/>
<circle cx="867.2" cy="1073" r="8.8"/>
<circle cx="855.5" cy="1104.2" r="8.8"/>
<circle cx="877" cy="1097.5" r="8.8"/>
<circle cx="899.1" cy="1017.1" r="8.8"/>
<circle cx="920.8" cy="969.8" r="8.8"/>
<circle cx="942.8" cy="858.1" r="8.8"/>
<circle cx="975.9" cy="756.5" r="8.8"/>
<circle cx="980.4" cy="755.5" r="8.8"/>
<circle cx="1009.8" cy="736.3" r="8.8"/>
</g>
<path d="M160 1550.2V1578.8M151.7 1550.2H168.3M151.7 1578.8H168.3M160 1557.2V1585.4M151.7 1557.2H168.3M151.7 1585.4H168.3M192.2 1552.5V1581M183.9 1552.5H200.5M183.9 1581H200.5M192.7 1583.3V1612.4M184.4 1583.3H201M184.4 1612.4H201M212.7 1534.1V1559.5M204.4 1534.1H221M204.4 1559.5H221M225 1552.4V1578.9M216.7 1552.4H233.3M216.7 1578.9H233.3M212.4 1559.3V1582.8M204.1 1559.3H220.7M204.1 1582.8H220.7M212.4 1562V1586.2M204.1 1562H220.7M204.1 1586.2H220.7M229.8 1518.8V1545.1M221.5 1518.8H238.1M221.5 1545.1H238.1M252 1503.6V1527.3M243.7 1503.6H260.3M243.7 1527.3H260.3M254.3 1542.6V1570.5M246 1542.6H262.6M246 1570.5H262.6M254.3 1548.3V1573.7M246 1548.3H262.6M246 1573.7H262.6M297.4 1492.2V1513M289.1 1492.2H305.7M289.1 1513H305.7M370.5 1397.8V1423M362.2 1397.8H378.8M362.2 1423H378.8M370.5 1415V1440M362.2 1415H378.8M362.2 1440H378.8M369.8 1427V1449.6M361.5 1427H378.1M361.5 1449.6H378.1M391.4 1392V1414M383.1 1392H399.7M383.1 1414H399.7M457.8 1364.4V1397.6M449.5 1364.4H466.1M449.5 1397.6H466.1M494.1 1271.3V1304.6M485.8 1271.3H502.4M485.8 1304.6H502.4M547.6 1408.8V1470.3M539.3 1408.8H555.9M539.3 1470.3H555.9M557.8 1413.9V1441.5M549.5 1413.9H566.1M549.5 1441.5H566.1M558.1 1445.3V1472.9M549.8 1445.3H566.4M549.8 1472.9H566.4M591.1 1550.2V1578.8M582.9 1550.2H599.4M582.9 1578.8H599.4M591.1 1557.2V1585.4M582.9 1557.2H599.4M582.9 1585.4H599.4M623.3 1552.5V1581M615 1552.5H631.6M615 1581H631.6M623.8 1583.3V1612.4M615.5 1583.3H632.1M615.5 1612.4H632.1M643.8 1534.1V1559.5M635.5 1534.1H652.1M635.5 1559.5H652.1M656.1 1552.4V1578.9M647.9 1552.4H664.4M647.9 1578.9H664.4M643.5 1559.3V1582.8M635.2 1559.3H651.8M635.2 1582.8H651.8M643.5 1562V1586.2M635.2 1562H651.8M635.2 1586.2H651.8M661 1518.8V1545.1M652.7 1518.8H669.2M652.7 1545.1H669.2M683.1 1503.6V1527.3M674.9 1503.6H691.4M674.9 1527.3H691.4M685.5 1542.6V1570.5M677.2 1542.6H693.8M677.2 1570.5H693.8M685.5 1548.3V1573.7M677.2 1548.3H693.8M677.2 1573.7H693.8M728.5 1492.2V1513M720.2 1492.2H736.8M720.2 1513H736.8M801.6 1397.8V1423M793.4 1397.8H809.9M793.4 1423H809.9M801.6 1415V1440M793.4 1415H809.9M793.4 1440H809.9M801 1427V1449.6M792.7 1427H809.2M792.7 1449.6H809.2M822.5 1392V1414M814.2 1392H830.8M814.2 1414H830.8M889 1364.4V1397.6M880.7 1364.4H897.2M880.7 1397.6H897.2M925.2 1271.3V1304.6M917 1271.3H933.5M917 1304.6H933.5M978.8 1408.8V1470.3M970.5 1408.8H987M970.5 1470.3H987M988.9 1413.9V1441.5M980.6 1413.9H997.2M980.6 1441.5H997.2M989.2 1445.3V1472.9M981 1445.3H997.5M981 1472.9H997.5" stroke="#0000ff" stroke-width="2.8" fill="none"/>
<g fill="#0000ff">
<circle cx="160" cy="1566" r="8.8"/>
<circle cx="160" cy="1571.2" r="8.8"/>
<circle cx="192.2" cy="1568.1" r="8.8"/>
<circle cx="192.7" cy="1596.5" r="8.8"/>
<circle cx="212.7" cy="1547.1" r="8.8"/>
<circle cx="225" cy="1565.3" r="8.8"/>
<circle cx="212.4" cy="1569" r="8.8"/>
<circle cx="212.4" cy="1574" r="8.8"/>
<circle cx="229.8" cy="1532.5" r="8.8"/>
<circle cx="252" cy="1515.2" r="8.8"/>
<circle cx="254.3" cy="1556" r="8.8"/>
<circle cx="254.3" cy="1561" r="8.8"/>
<circle cx="297.4" cy="1502.6" r="8.8"/>
<circle cx="370.5" cy="1410.5" r="8.8"/>
<circle cx="370.5" cy="1427.7" r="8.8"/>
<circle cx="369.8" cy="1439.7" r="8.8"/>
<circle cx="391.4" cy="1402.8" r="8.8"/>
<circle cx="457.8" cy="1380.4" r="8.8"/>
<circle cx="494.1" cy="1288.4" r="8.8"/>
<circle cx="547.6" cy="1438.9" r="8.8"/>
<circle cx="557.8" cy="1429.4" r="8.8"/>
<circle cx="558.1" cy="1457.4" r="8.8"/>
<circle cx="591.1" cy="1566" r="8.8"/>
<circle cx="591.1" cy="1571.2" r="8.8"/>
<circle cx="623.3" cy="1568.1" r="8.8"/>
<circle cx="623.8" cy="1596.5" r="8.8"/>
<circle cx="643.8" cy="1547.1" r="8.8"/>
<circle cx="656.1" cy="1565.3" r="8.8"/>
<circle cx="643.5" cy="1569" r="8.8"/>
<circle cx="643.5" cy="1574" r="8.8"/>
<circle cx="661" cy="1532.5" r="8.8"/>
<circle cx="683.1" cy="1515.2" r="8.8"/>
<circle cx="685.5" cy="1556" r="8.8"/>
<circle cx="685.5" cy="1561" r="8.8"/>
<circle cx="728.5" cy="1502.6" r="8.8"/>
<circle cx="801.6" cy="1410.5" r="8.8"/>
<circle cx="801.6" cy="1427.7" r="8.8"/>
<circle cx="801" cy="1439.7" r="8.8"/>
<circle cx="822.5" cy="1402.8" r="8.8"/>
<circle cx="889" cy="1380.4" r="8.8"/>
<circle cx="925.2" cy="1288.4" r="8.8"/>
<circle cx="978.8" cy="1438.9" r="8.8"/>
<circle cx="988.9" cy="1429.4" r="8.8"/>
<circle cx="989.2" cy="1457.4" r="8.8"/>
</g>
<path d="M195.5 54.8V61.3M195.5 618.1V611.6M195.5 618.1V624.6M195.5 1182.8V1176.2M195.5 1182.8V1189.3M195.5 1747.2V1740.7M238.6 54.8V61.3M238.6 618.1V611.6M238.6 618.1V624.6M238.6 1182.8V1176.2M238.6 1182.8V1189.3M238.6 1747.2V1740.7M281.7 54.8V61.3M281.7 618.1V611.6M281.7 618.1V624.6M281.7 1182.8V1176.2M281.7 1182.8V1189.3M281.7 1747.2V1740.7M324.8 54.8V61.3M324.8 618.1V611.6M324.8 618.1V624.6M324.8 1182.8V1176.2M324.8 1182.8V1189.3M324.8 1747.2V1740.7M367.9 54.8V69.6M367.9 618.1V603.2M367.9 618.1V633M367.9 1182.8V1167.9M367.9 1182.8V1197.6M367.9 1747.2V1732.4M411 54.8V61.3M411 618.1V611.6M411 618.1V624.6M411 1182.8V1176.2M411 1182.8V1189.3M411 1747.2V1740.7M454.2 54.8V61.3M454.2 618.1V611.6M454.2 618.1V624.6M454.2 1182.8V1176.2M454.2 1182.8V1189.3M454.2 1747.2V1740.7M497.3 54.8V61.3M497.3 618.1V611.6M497.3 618.1V624.6M497.3 1182.8V1176.2M497.3 1182.8V1189.3M497.3 1747.2V1740.7M540.4 54.8V61.3M540.4 618.1V611.6M540.4 618.1V624.6M540.4 1182.8V1176.2M540.4 1182.8V1189.3M540.4 1747.2V1740.7M583.5 54.8V69.6M583.5 618.1V603.2M583.5 618.1V633M583.5 1182.8V1167.9M583.5 1182.8V1197.6M583.5 1747.2V1732.4M626.6 54.8V61.3M626.6 618.1V611.6M626.6 618.1V624.6M626.6 1182.8V1176.2M626.6 1182.8V1189.3M626.6 1747.2V1740.7M669.7 54.8V61.3M669.7 618.1V611.6M669.7 618.1V624.6M669.7 1182.8V1176.2M669.7 1182.8V1189.3M669.7 1747.2V1740.7M712.8 54.8V61.3M712.8 618.1V611.6M712.8 618.1V624.6M712.8 1182.8V1176.2M712.8 1182.8V1189.3M712.8 1747.2V1740.7M756 54.8V61.3M756 618.1V611.6M756 618.1V624.6M756 1182.8V1176.2M756 1182.8V1189.3M756 1747.2V1740.7M799.1 54.8V69.6M799.1 618.1V603.2M799.1 618.1V633M799.1 1182.8V1167.9M799.1 1182.8V1197.6M799.1 1747.2V1732.4M842.2 54.8V61.3M842.2 618.1V611.6M842.2 618.1V624.6M842.2 1182.8V1176.2M842.2 1182.8V1189.3M842.2 1747.2V1740.7M885.3 54.8V61.3M885.3 618.1V611.6M885.3 618.1V624.6M885.3 1182.8V1176.2M885.3 1182.8V1189.3M885.3 1747.2V1740.7M928.4 54.8V61.3M928.4 618.1V611.6M928.4 618.1V624.6M928.4 1182.8V1176.2M928.4 1182.8V1189.3M928.4 1747.2V1740.7M971.5 54.8V61.3M971.5 618.1V611.6M971.5 618.1V624.6M971.5 1182.8V1176.2M971.5 1182.8V1189.3M971.5 1747.2V1740.7M152.3 92H159.5M1014.6 92H1007.5M152.3 129.7H159.5M1014.6 129.7H1007.5M152.3 167.4H167.2M1014.6 167.4H999.8M152.3 205.1H159.5M1014.6 205.1H1007.5M152.3 242.9H159.5M1014.6 242.9H1007.5M152.3 280.6H159.5M1014.6 280.6H1007.5M152.3 318.3H167.2M1014.6 318.3H999.8M152.3 356H159.5M1014.6 356H1007.5M152.3 393.8H159.5M1014.6 393.8H1007.5M152.3 431.5H159.5M1014.6 431.5H1007.5M152.3 469.2H167.2M1014.6 469.2H999.8M152.3 506.9H159.5M1014.6 506.9H1007.5M152.3 544.6H159.5M1014.6 544.6H1007.5M152.3 637.9H159.5M1014.6 637.9H1007.5M152.3 675.5H159.5M1014.6 675.5H1007.5M152.3 713H167.2M1014.6 713H999.8M152.3 750.5H159.5M1014.6 750.5H1007.5M152.3 788.1H159.5M1014.6 788.1H1007.5M152.3 825.6H159.5M1014.6 825.6H1007.5M152.3 863.1H167.2M1014.6 863.1H999.8M152.3 900.7H159.5M1014.6 900.7H1007.5M152.3 938.2H159.5M1014.6 938.2H1007.5M152.3 975.7H159.5M1014.6 975.7H1007.5M152.3 1013.3H167.2M1014.6 1013.3H999.8M152.3 1050.8H159.5M1014.6 1050.8H1007.5M152.3 1088.3H159.5M1014.6 1088.3H1007.5M152.3 1125.9H159.5M1014.6 1125.9H1007.5M152.3 1163.4H167.2M1014.6 1163.4H999.8M152.3 1205.7H167.2M1014.6 1205.7H999.8M152.3 1228.2H159.5M1014.6 1228.2H1007.5M152.3 1250.8H159.5M1014.6 1250.8H1007.5M152.3 1273.3H159.5M1014.6 1273.3H1007.5M152.3 1295.9H159.5M1014.6 1295.9H1007.5M152.3 1318.4H167.2M1014.6 1318.4H999.8M152.3 1340.9H159.5M1014.6 1340.9H1007.5M152.3 1363.5H159.5M1014.6 1363.5H1007.5M152.3 1386H159.5M1014.6 1386H1007.5M152.3 1408.6H159.5M1014.6 1408.6H1007.5M152.3 1431.1H167.2M1014.6 1431.1H999.8M152.3 1453.6H159.5M1014.6 1453.6H1007.5M152.3 1476.2H159.5M1014.6 1476.2H1007.5M152.3 1498.7H159.5M1014.6 1498.7H1007.5M152.3 1521.3H159.5M1014.6 1521.3H1007.5M152.3 1543.8H167.2M1014.6 1543.8H999.8M152.3 1566.3H159.5M1014.6 1566.3H1007.5M152.3 1588.9H159.5M1014.6 1588.9H1007.5M152.3 1611.4H159.5M1014.6 1611.4H1007.5M152.3 1634H159.5M1014.6 1634H1007.5M152.3 1656.5H167.2M1014.6 1656.5H999.8M152.3 1679H159.5M1014.6 1679H1007.5M152.3 1701.6H159.5M1014.6 1701.6H1007.5M152.3 1724.1H159.5M1014.6 1724.1H1007.5" stroke="#000" stroke-width="2.9" stroke-linecap="round" fill="none"/>
<path d="M152.3 54.8H1014.6V1747.2H152.3ZM152.3 618.1H1014.6M152.3 1182.8H1014.6" stroke="#000" stroke-width="3.2" fill="none" stroke-linejoin="round"/>
<text y="33.2" font-family='"Liberation Sans",sans-serif' font-size="47.38" fill="#000" stroke="#fff" stroke-width="0.8"><tspan x="362.35" textLength="30.42" lengthAdjust="spacingAndGlyphs">O</tspan><tspan x="395.93" textLength="30.5" lengthAdjust="spacingAndGlyphs">G</tspan><tspan x="424.39" textLength="26.49" lengthAdjust="spacingAndGlyphs">L</tspan><tspan x="449.81" textLength="25.97" lengthAdjust="spacingAndGlyphs">E</tspan><tspan x="476.1" textLength="21.01" lengthAdjust="spacingAndGlyphs">-</tspan><tspan x="497.04" textLength="31.81" lengthAdjust="spacingAndGlyphs">G</tspan><tspan x="526.92" textLength="32.43" lengthAdjust="spacingAndGlyphs">D</tspan><tspan x="559.3" textLength="21.01" lengthAdjust="spacingAndGlyphs">-</tspan><tspan x="579.96" textLength="29.08" lengthAdjust="spacingAndGlyphs">C</tspan><tspan x="610.04" textLength="27.32" lengthAdjust="spacingAndGlyphs">E</tspan><tspan x="638.08" textLength="27.82" lengthAdjust="spacingAndGlyphs">P</tspan><tspan x="668" textLength="21.01" lengthAdjust="spacingAndGlyphs">-</tspan><tspan x="694.45" textLength="14.49" lengthAdjust="spacingAndGlyphs">1</tspan><tspan x="717.94" textLength="28.92" lengthAdjust="spacingAndGlyphs">8</tspan><tspan x="747.24" textLength="28.92" lengthAdjust="spacingAndGlyphs">8</tspan><tspan x="776.56" textLength="25.16" lengthAdjust="spacingAndGlyphs">4</tspan></text>
<text x="68.96" y="179.2" font-family='"Liberation Serif",serif' font-size="36.78" textLength="69.48" lengthAdjust="spacingAndGlyphs" fill="#000" stroke="#000" stroke-width="0.7">11.2</text>
<text x="69.04" y="330.1" font-family='"Liberation Serif",serif' font-size="36.89" textLength="67.81" lengthAdjust="spacingAndGlyphs" fill="#000" stroke="#000" stroke-width="0.7">11.4</text>
<text x="69.01" y="481" font-family='"Liberation Serif",serif' font-size="36.78" textLength="68.4" lengthAdjust="spacingAndGlyphs" fill="#000" stroke="#000" stroke-width="0.7">11.6</text>
<text x="69.01" y="724.8" font-family='"Liberation Serif",serif' font-size="36.78" textLength="68.4" lengthAdjust="spacingAndGlyphs" fill="#000" stroke="#000" stroke-width="0.7">16.6</text>
<text x="69" y="875.6" font-family='"Liberation Serif",serif' font-size="36.61" textLength="68.75" lengthAdjust="spacingAndGlyphs" fill="#000" stroke="#000" stroke-width="0.7">16.8</text>
<text x="98.98" y="1025.7" font-family='"Liberation Serif",serif' font-size="36.89" textLength="38.38" lengthAdjust="spacingAndGlyphs" fill="#000" stroke="#000" stroke-width="0.7">17</text>
<text x="68.96" y="1175.6" font-family='"Liberation Serif",serif' font-size="36.78" textLength="69.48" lengthAdjust="spacingAndGlyphs" fill="#000" stroke="#000" stroke-width="0.7">17.2</text>
<text x="72.78" y="1217.5" font-family='"Liberation Serif",serif' font-size="36.61" textLength="65.06" lengthAdjust="spacingAndGlyphs" fill="#000" stroke="#000" stroke-width="0.7">−50</text>
<text x="72.78" y="1330.2" font-family='"Liberation Serif",serif' font-size="36.61" textLength="65.06" lengthAdjust="spacingAndGlyphs" fill="#000" stroke="#000" stroke-width="0.7">−60</text>
<text x="72.78" y="1442.9" font-family='"Liberation Serif",serif' font-size="36.61" textLength="65.06" lengthAdjust="spacingAndGlyphs" fill="#000" stroke="#000" stroke-width="0.7">−70</text>
<text x="72.78" y="1555.6" font-family='"Liberation Serif",serif' font-size="36.61" textLength="65.06" lengthAdjust="spacingAndGlyphs" fill="#000" stroke="#000" stroke-width="0.7">−80</text>
<text x="72.78" y="1668.3" font-family='"Liberation Serif",serif' font-size="36.61" textLength="65.06" lengthAdjust="spacingAndGlyphs" fill="#000" stroke="#000" stroke-width="0.7">−90</text>
<text x="142.6" y="1788.6" font-family='"Liberation Serif",serif' font-size="34.06" textLength="20.41" lengthAdjust="spacingAndGlyphs" fill="#000" stroke="#000" stroke-width="0.7">0</text>
<text x="341.97" y="1788.6" font-family='"Liberation Serif",serif' font-size="34.06" textLength="51.8" lengthAdjust="spacingAndGlyphs" fill="#000" stroke="#000" stroke-width="0.7">0.5</text>
<text x="576.05" y="1788.6" font-family='"Liberation Serif",serif' font-size="34.31" textLength="14.77" lengthAdjust="spacingAndGlyphs" fill="#000" stroke="#000" stroke-width="0.7">1</text>
<text x="775.62" y="1788.6" font-family='"Liberation Serif",serif' font-size="34.31" textLength="48.75" lengthAdjust="spacingAndGlyphs" fill="#000" stroke="#000" stroke-width="0.7">1.5</text>
<text x="1004.05" y="1788.6" font-family='"Liberation Serif",serif' font-size="34.21" textLength="21.58" lengthAdjust="spacingAndGlyphs" fill="#000" stroke="#000" stroke-width="0.7">2</text>
<text y="1844.3" font-family='"Liberation Sans",sans-serif' font-size="46.73" fill="#000" stroke="#fff" stroke-width="0.7"><tspan x="515.31" textLength="31.2" lengthAdjust="spacingAndGlyphs">P</tspan><tspan x="546.7" textLength="26.1" lengthAdjust="spacingAndGlyphs">h</tspan><tspan x="574.65" textLength="22.2" lengthAdjust="spacingAndGlyphs">a</tspan><tspan x="602.37" textLength="19.38" lengthAdjust="spacingAndGlyphs">s</tspan><tspan x="624.96" textLength="26.07" lengthAdjust="spacingAndGlyphs">e</tspan></text>
<g transform="translate(0 480) rotate(-90)"><text font-family='"Liberation Sans",sans-serif' fill="#000"><tspan x="3.76" textLength="13.55" lengthAdjust="spacingAndGlyphs" y="39" font-size="50.86" font-family='"Liberation Serif",serif' font-style="italic" font-weight="normal" stroke="#000" stroke-width="0.8">I</tspan> <tspan y="37.8" font-size="42.69" font-style="normal" font-weight="normal" stroke="#fff" stroke-width="0.7"><tspan x="47.69" textLength="43.39" lengthAdjust="spacingAndGlyphs">m</tspan><tspan x="89.89" textLength="20.46" lengthAdjust="spacingAndGlyphs">a</tspan><tspan x="116.68" textLength="27.45" lengthAdjust="spacingAndGlyphs">g</tspan><tspan x="146.49" textLength="23.96" lengthAdjust="spacingAndGlyphs">n</tspan><tspan x="169.49" textLength="13.14" lengthAdjust="spacingAndGlyphs">i</tspan><tspan x="182.34" textLength="14.9" lengthAdjust="spacingAndGlyphs">t</tspan><tspan x="200.55" textLength="23.96" lengthAdjust="spacingAndGlyphs">u</tspan><tspan x="226.29" textLength="23.37" lengthAdjust="spacingAndGlyphs">d</tspan><tspan x="254.28" textLength="23.11" lengthAdjust="spacingAndGlyphs">e</tspan></tspan></text></g>
<g transform="translate(0 1046) rotate(-90)"><text font-family='"Liberation Sans",sans-serif' fill="#000"><tspan x="1.3" textLength="23.42" lengthAdjust="spacingAndGlyphs" y="38.1" font-size="49.33" font-family='"Liberation Serif",serif' font-style="italic" font-weight="normal" stroke="#000" stroke-width="0.8">V</tspan> <tspan y="37.8" font-size="42.69" font-style="normal" font-weight="normal" stroke="#fff" stroke-width="0.7"><tspan x="54.73" textLength="44.11" lengthAdjust="spacingAndGlyphs">m</tspan><tspan x="97.59" textLength="20.46" lengthAdjust="spacingAndGlyphs">a</tspan><tspan x="124.38" textLength="27.45" lengthAdjust="spacingAndGlyphs">g</tspan><tspan x="152.69" textLength="25.66" lengthAdjust="spacingAndGlyphs">n</tspan><tspan x="177.19" textLength="13.14" lengthAdjust="spacingAndGlyphs">i</tspan><tspan x="190.04" textLength="14.9" lengthAdjust="spacingAndGlyphs">t</tspan><tspan x="207.45" textLength="24.87" lengthAdjust="spacingAndGlyphs">u</tspan><tspan x="233.92" textLength="24.24" lengthAdjust="spacingAndGlyphs">d</tspan><tspan x="262.52" textLength="23.94" lengthAdjust="spacingAndGlyphs">e</tspan></tspan></text></g>
<g transform="translate(0 1582) rotate(-90)"><text font-family='"Liberation Sans",sans-serif' fill="#000"><tspan x="2.65" textLength="22" lengthAdjust="spacingAndGlyphs" y="38.1" font-size="46.95" font-family='"Liberation Serif",serif' font-style="normal" font-weight="normal" stroke="#000" stroke-width="0.9">v</tspan><tspan x="26.3" textLength="15.22" lengthAdjust="spacingAndGlyphs" y="52.2" font-size="29.92" font-family='"Liberation Serif",serif' font-style="italic" font-weight="bold" stroke="none">r</tspan> <tspan x="67.77" textLength="14.54" lengthAdjust="spacingAndGlyphs" y="38.5" font-size="53.13" font-style="normal" font-weight="normal" stroke="none">[</tspan><tspan x="87.37" textLength="65.78" lengthAdjust="spacingAndGlyphs" y="37.7" font-size="41.68" font-style="normal" font-weight="normal" stroke="#fff" stroke-width="0.6">km</tspan><tspan x="155" textLength="29.5" lengthAdjust="spacingAndGlyphs" y="47.6" font-size="65.41" font-style="normal" font-weight="normal" stroke="#fff" stroke-width="2.2">/</tspan><tspan x="187.88" textLength="20.07" lengthAdjust="spacingAndGlyphs" y="38.4" font-size="41.74" font-style="normal" font-weight="normal" stroke="#fff" stroke-width="0.6">s</tspan><tspan x="214.27" textLength="15.38" lengthAdjust="spacingAndGlyphs" y="38.5" font-size="53.13" font-style="normal" font-weight="normal" stroke="none">]</tspan></text></g>
<circle cx="200" cy="540.5" r="7" fill="#0000ff"/>
<text y="552.8" font-family='"Liberation Sans",sans-serif' font-size="32.91" fill="#000" stroke="#fff" stroke-width="0.5"><tspan x="229.97" textLength="81.14" lengthAdjust="spacingAndGlyphs">OGLE</tspan> <tspan x="327.38" textLength="199.14" lengthAdjust="spacingAndGlyphs">observations</tspan></text>
<rect x="186.4" y="577.5" width="26.1" height="9.2" fill="#ff8c00"/>
<text y="589.8" font-family='"Liberation Sans",sans-serif' font-size="32.09" fill="#000" stroke="#fff" stroke-width="0.5"><tspan x="230.99" textLength="141.78" lengthAdjust="spacingAndGlyphs">Template</tspan> <tspan x="387.64" textLength="68.38" lengthAdjust="spacingAndGlyphs">light</tspan> <tspan x="473.06" textLength="103.56" lengthAdjust="spacingAndGlyphs">curves</tspan></text>
<path d="M200 1647V1676M191.5 1647H208.5M191.5 1676H208.5" stroke="#0000ff" stroke-width="2.8"/>
<circle cx="200" cy="1661" r="8.8" fill="#0000ff"/>
<text y="1673.3" font-family='"Liberation Sans",sans-serif' font-size="31.67" fill="#000" stroke="#fff" stroke-width="0.5"><tspan x="230.07" textLength="62.18" lengthAdjust="spacingAndGlyphs">Gaia</tspan> <tspan x="309.55" textLength="189.21" lengthAdjust="spacingAndGlyphs">observations</tspan></text>
<rect x="186.4" y="1699.4" width="26.1" height="9.1" fill="#ff8c00"/>
<text y="1711.6" font-family='"Liberation Sans",sans-serif' font-size="30.57" fill="#000" stroke="#fff" stroke-width="0.5"><tspan x="231.03" textLength="134.05" lengthAdjust="spacingAndGlyphs">Template</tspan> <tspan x="377.4" textLength="206.91" lengthAdjust="spacingAndGlyphs">radial-velocity</tspan> <tspan x="598.7" textLength="83.26" lengthAdjust="spacingAndGlyphs">curve</tspan></text>
<text y="1713.2" font-family='"Liberation Sans",sans-serif' font-size="32.09" fill="#000" stroke="#fff" stroke-width="0.5"><tspan x="778.99" textLength="20.75" lengthAdjust="spacingAndGlyphs" font-style="italic">P</tspan> <tspan x="814.96" textLength="25" lengthAdjust="spacingAndGlyphs">=</tspan> <tspan x="851.21" textLength="90" lengthAdjust="spacingAndGlyphs">78.14</tspan> <tspan x="951.53" textLength="20.16" lengthAdjust="spacingAndGlyphs">d</tspan></text>
</svg></body></html>
